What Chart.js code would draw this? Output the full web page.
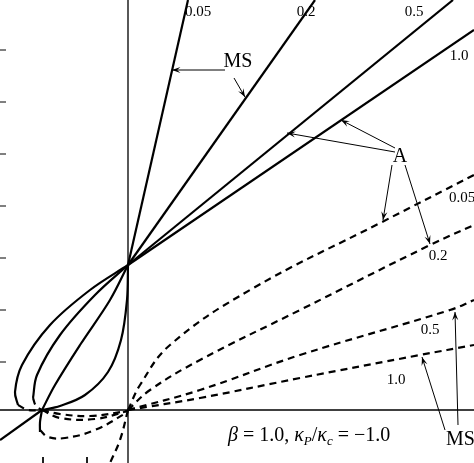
<!DOCTYPE html>
<html>
<head>
<meta charset="utf-8">
<script src="https://cdn.jsdelivr.net/npm/chart.js@4/dist/chart.umd.min.js"></script>
<style>
  html, body { margin: 0; padding: 0; background: #fff; }
  #wrap { width: 474px; height: 463px; }
</style>
</head>
<body>
<div id="wrap"><canvas id="c"></canvas></div>
<script>
// curves, plot units (x right, y down)
var solidUp = {
    "0.05": [[128, 265], [188, 0]],
    "0.2": [[128, 265], [315, 0]],
    "0.5": [[128, 265], [453, 0]],
    "1.0": [[128, 265], [474, 30]]
};
var solidLoop = {
    "1.0": [[128, 265], [90, 290], [50, 325], [22, 365], [15, 392], [18, 405]],
    "0.5": [[128, 265], [95, 295], [60, 335], [37, 375], [33, 398]],
    "0.2": [[128, 265], [110, 300], [80, 345], [55, 385], [42, 410]],
    "0.05": [[128, 265], [127, 300], [121, 340], [108, 372], [85, 395], [60, 406], [42, 410]]
};
var solidTail = [[42, 410], [40, 422], [40, 432]];
var solidExit = [[42, 410], [0, 440]];
var dashedLeft = [
    [[18, 405], [28, 410], [42, 410]],
    [[33, 398], [36, 406], [42, 410]],
    [[42, 410], [60, 414], [90, 416], [128, 411]],
    [[42, 410], [60, 418], [95, 419], [128, 411]],
    [[40, 430], [48, 437], [65, 438], [95, 430], [128, 412]],
    [[128, 410], [120, 440], [110, 463]]
];
var dashedRight = {
    "0.05": [[128, 410], [140, 385], [170, 345], [250, 290], [382, 222], [474, 175]],
    "0.2": [[128, 410], [150, 390], [200, 360], [300, 310], [430, 245], [474, 225]],
    "0.5": [[128, 410], [200, 390], [300, 355], [450, 310], [474, 300]],
    "1.0": [[128, 410], [200, 398], [300, 378], [420, 355], [474, 345]]
};
var axisLines = [[[128, 0], [128, 463]], [[0, 410], [474, 410]]];
var leftTicks = [50, 102, 154, 206, 258, 310, 362];
var bottomTicks = [43, 87];
var curveLabels = [
    ["0.05", 198, 12], ["0.2", 306, 12], ["0.5", 414, 12], ["1.0", 459, 56],
    ["0.05", 462, 198], ["0.2", 438, 256], ["0.5", 430, 330], ["1.0", 396, 380]
];
var arrows = [
    [225, 70, 172, 70], [234, 78, 245, 97],
    [395, 152, 287, 133], [395, 148, 341, 120], [392, 165, 383, 220], [405, 165, 430, 244],
    [458, 425, 455, 312], [445, 430, 422, 357]
];

function pts(a) { return a.map(function (p) { return { x: p[0], y: p[1] }; }); }
var datasets = [];
function add(a, dashed, width, tension) {
    datasets.push({ data: pts(a), showLine: true, pointRadius: 0, borderColor: '#000',
        borderWidth: width, borderDash: dashed ? [7, 5] : [], tension: tension, fill: false });
}
axisLines.forEach(function (a) { add(a, false, 1.3, 0); });
Object.keys(solidUp).forEach(function (k) { add(solidUp[k], false, 2.2, 0); });
Object.keys(solidLoop).forEach(function (k) { add(solidLoop[k], false, 2.2, 0.35); });
add(solidTail, false, 2.2, 0.3);
add(solidExit, false, 2.2, 0);
dashedLeft.forEach(function (a) { add(a, true, 2.2, 0.4); });
Object.keys(dashedRight).forEach(function (k) { add(dashedRight[k], true, 2.2, 0.4); });
leftTicks.forEach(function (t) { add([[0, t], [6, t]], false, 1, 0); });
bottomTicks.forEach(function (t) { add([[t, 457], [t, 463]], false, 1, 0); });

var textPlugin = {
    id: 'texts',
    afterDatasetsDraw: function (chart) {
        var ctx = chart.ctx, sx = chart.scales.x, sy = chart.scales.y;
        ctx.save();
        ctx.fillStyle = '#000';
        ctx.strokeStyle = '#000';
        ctx.textAlign = 'center';
        ctx.textBaseline = 'middle';
        ctx.font = '15px "Liberation Serif"';
        curveLabels.forEach(function (l) { ctx.fillText(l[0], sx.getPixelForValue(l[1]), sy.getPixelForValue(l[2])); });
        ctx.font = '20px "Liberation Serif"';
        ctx.fillText('MS', sx.getPixelForValue(238), sy.getPixelForValue(62));
        ctx.fillText('A', sx.getPixelForValue(400), sy.getPixelForValue(157));
        ctx.textAlign = 'left';
        ctx.fillText('MS', sx.getPixelForValue(446), sy.getPixelForValue(440));
        ctx.lineWidth = 1;
        arrows.forEach(function (a) {
            var x1 = sx.getPixelForValue(a[0]), y1 = sy.getPixelForValue(a[1]);
            var x2 = sx.getPixelForValue(a[2]), y2 = sy.getPixelForValue(a[3]);
            ctx.beginPath(); ctx.moveTo(x1, y1); ctx.lineTo(x2, y2); ctx.stroke();
            var ang = Math.atan2(y2 - y1, x2 - x1);
            ctx.beginPath();
            ctx.moveTo(x2, y2);
            ctx.lineTo(x2 - 9 * Math.cos(ang - 0.35), y2 - 9 * Math.sin(ang - 0.35));
            ctx.lineTo(x2 - 5 * Math.cos(ang), y2 - 5 * Math.sin(ang));
            ctx.lineTo(x2 - 9 * Math.cos(ang + 0.35), y2 - 9 * Math.sin(ang + 0.35));
            ctx.closePath(); ctx.fill();
        });
        var x = sx.getPixelForValue(228), y = sy.getPixelForValue(436);
        function put(s, f) { ctx.font = f; ctx.fillText(s, x, y); x += ctx.measureText(s).width; }
        put('β', 'italic 20px "Liberation Serif"');
        put(' = 1.0, ', '20px "Liberation Serif"');
        put('κ', 'italic 20px "Liberation Serif"');
        ctx.font = 'italic 13px "Liberation Serif"'; y += 6; ctx.fillText('P', x, y); x += ctx.measureText('P').width; y -= 6;
        put('/', '20px "Liberation Serif"');
        put('κ', 'italic 20px "Liberation Serif"');
        ctx.font = 'italic 13px "Liberation Serif"'; y += 6; ctx.fillText('c', x, y); x += ctx.measureText('c').width; y -= 6;
        put(' = −1.0', '20px "Liberation Serif"');
        ctx.restore();
    }
};

new Chart(document.getElementById('c'), {
    type: 'scatter',
    data: { datasets: datasets },
    options: {
        responsive: true,
        maintainAspectRatio: false,
        animation: false,
        layout: { padding: 0 },
        plugins: { legend: { display: false }, tooltip: { enabled: false } },
        scales: {
            x: { type: 'linear', min: 0, max: 474, display: false },
            y: { type: 'linear', min: 0, max: 463, reverse: true, display: false }
        }
    },
    plugins: [textPlugin]
});
</script>
</body>
</html>
